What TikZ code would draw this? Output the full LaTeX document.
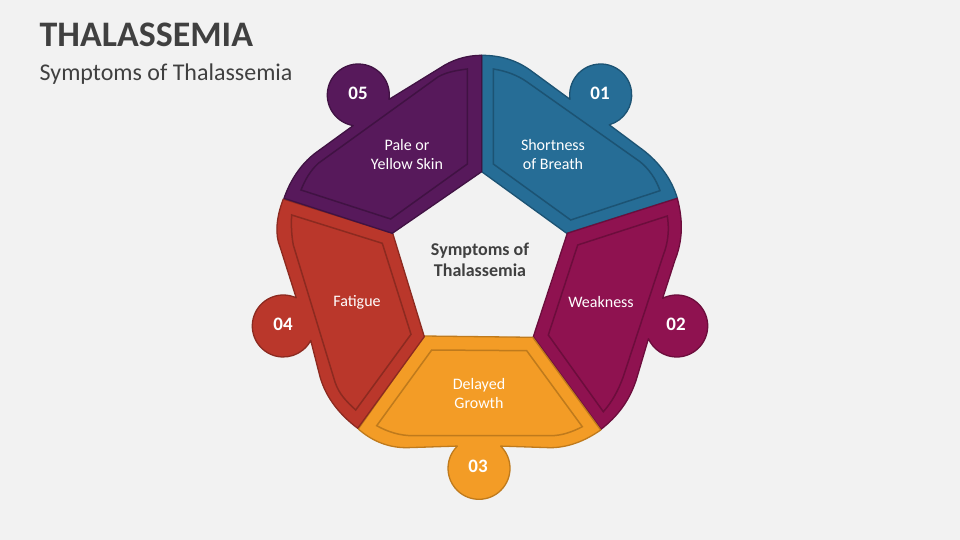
\documentclass[tikz,border=0pt]{standalone}
\usepackage{fontspec}
\setmainfont{Carlito}
\definecolor{bgc}{HTML}{F2F2F2}
\definecolor{txt}{HTML}{404040}
\definecolor{cblue}{HTML}{266D96}\definecolor{dblue}{HTML}{1C5373}
\definecolor{cmag}{HTML}{8F1250}\definecolor{dmag}{HTML}{6C0D3C}
\definecolor{cor}{HTML}{F39C26}\definecolor{dor}{HTML}{BF7A1C}
\definecolor{cred}{HTML}{BA372B}\definecolor{dred}{HTML}{8C2A20}
\definecolor{cpur}{HTML}{57195B}\definecolor{dpur}{HTML}{401243}
\newcommand{\tabarc}[4]{-- ([shift={(#3:31)}]#1,#2) arc[start angle=#3,end angle=#4,radius=31]}
\tikzset{
  petal/.style={line width=1.3pt,line join=round},
  inner/.style={line width=1.5pt,line join=miter},
  lbl/.style={text=white,font=\fontsize{16}{19}\selectfont,align=center,inner sep=0pt},
  num/.style={text=white,font=\fontsize{19}{20}\selectfont\bfseries,inner sep=0pt},
}
\begin{document}
\begin{tikzpicture}[x=1pt,y=-1pt]
\useasboundingbox (0,0) rectangle (960,540);
\fill[bgc] (0,0) rectangle (960,540);
% 01 blue
\draw[petal,fill=cblue,draw=dblue] (481.7,55.3) .. controls (500,55.3) and (516,60) .. (530,70)
  \tabarc{600.7}{95}{172}{434}
  -- (643,150) .. controls (660,163) and (672,180) .. (677.3,198.3)
  -- (566.7,233.3) -- (481.7,171.7) -- cycle;
\draw[inner,draw=dblue] (493.3,69) .. controls (506,71) and (517,75) .. (526.7,81.7)
  -- (640,161.7) .. controls (649,169) and (656,179) .. (660,190.7)
  -- (570.7,220) -- (493.3,164) -- cycle;
% 02 magenta
\draw[petal,fill=cmag,draw=dmag] (677.3,198.3) .. controls (683,220) and (683,240) .. (675,260)
  \tabarc{676.7}{326}{243}{515.8}
  -- (636.7,378.3) .. controls (630,400) and (618,416) .. (601,429.3)
  -- (533.3,336.7) -- (567.3,233.3) -- cycle;
\draw[inner,draw=dmag] (667.3,216) .. controls (669.5,230) and (668,243) .. (663.3,255)
  -- (623.3,376.7) .. controls (618,391) and (612,402) .. (603.3,411.7)
  -- (548.3,335) -- (577.7,245) -- cycle;
% 03 orange
\draw[petal,fill=cor,draw=dor] (424,336) -- (532.7,337.3) -- (600.7,430)
  .. controls (585,441) and (568,447.7) .. (550,447.7)
  \tabarc{479}{468.3}{-45.8}{225.8}
  -- (406.7,447.7) .. controls (388,447.7) and (372,441) .. (358.3,429) -- cycle;
\draw[inner,draw=dor] (431.7,350) -- (526.7,350.7) -- (582.3,426.7)
  .. controls (572,432) and (562,435.7) .. (550,435.7)
  -- (413.3,435.7) .. controls (400,435.7) and (388,432) .. (376.7,425.7) -- cycle;
% 04 red
\draw[petal,fill=cred,draw=dred] (283.3,199) .. controls (276,218) and (275,235) .. (280,246.7)
  \tabarc{283.3}{326}{-65.4}{-332.3}
  -- (320,376.7) .. controls (326,398) and (340,415) .. (357.7,428.3)
  -- (424.3,336.7) -- (392.7,233.3) -- cycle;
\draw[inner,draw=dred] (291.7,215) -- (382.3,243.3) -- (411,334.3) -- (355.7,410)
  .. controls (346,401) and (339,394) .. (335,382)
  -- (293.3,245) .. controls (291.5,235) and (291,225) .. cycle;
% 05 purple
\draw[petal,fill=cpur,draw=dpur] (481.7,55.3) .. controls (466,55.3) and (452,60) .. (440,68)
  \tabarc{358.3}{95}{8.2}{-260.6}
  -- (315,153.3) .. controls (300,165) and (290,181) .. (284,198.3)
  -- (392.3,233.3) -- (481.7,171.7) -- cycle;
\draw[inner,draw=dpur] (467.3,69) .. controls (456,70.5) and (447,72) .. (438.3,76.7)
  -- (318.3,163.3) .. controls (310,171) and (305,180) .. (301,190)
  -- (390.7,219) -- (467.3,164) -- cycle;
% texts
\node[anchor=west,inner sep=0pt,text=txt,font=\fontsize{35.9}{40}\selectfont\bfseries] (title) at (39.5,35) {THALASSEMIA};
\node[anchor=west,inner sep=0pt,text=txt,font=\fontsize{24}{28}\selectfont] (sub) at (39.5,74) {Symptoms of Thalassemia};
\node[inner sep=0pt,text=txt,align=center,font=\fontsize{18}{21}\selectfont\bfseries] (ctr) at (480,259.5) {Symptoms of\\Thalassemia};
\node[lbl] (t1) at (553,154.5) {Shortness\\of Breath};
\node[lbl] (t2) at (601,302.5) {Weakness};
\node[lbl] (t3) at (479,393.5) {Delayed\\Growth};
\node[lbl] (t4) at (357,302) {Fatigue};
\node[lbl] (t5) at (407,154.5) {Pale or\\Yellow Skin};
\node[num] (n1) at (600,93.5) {01};
\node[num] (n2) at (676,324.5) {02};
\node[num] (n3) at (478,466.5) {03};
\node[num] (n4) at (283,324.5) {04};
\node[num] (n5) at (358,93.5) {05};
\end{tikzpicture}
\end{document}
